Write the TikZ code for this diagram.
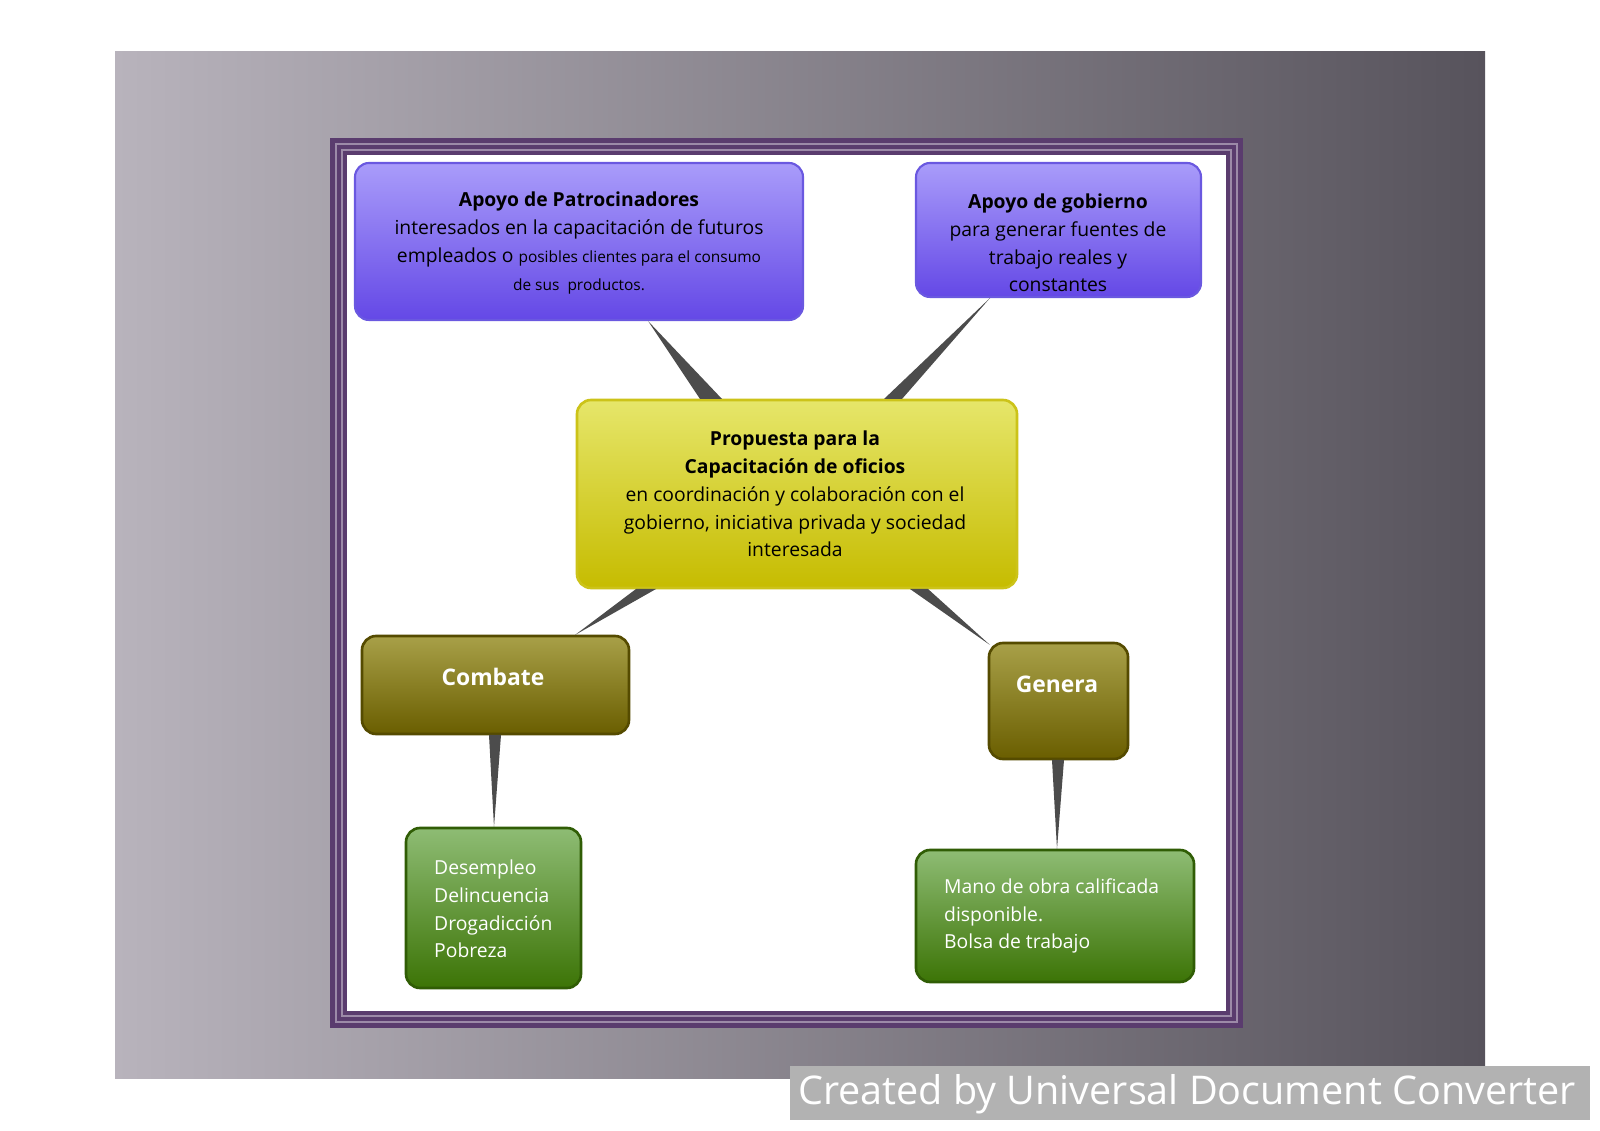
\documentclass[tikz,border=0pt]{standalone}
\usepackage{fontspec}
\setmainfont{Open Sans}
\usetikzlibrary{calc}
\definecolor{frame}{HTML}{5A3C6E}
\definecolor{bgl}{HTML}{B8B3BC}
\definecolor{bgr}{HTML}{57535C}
\definecolor{pt}{HTML}{A99CFA}
\definecolor{pb}{HTML}{6448E6}
\definecolor{pd}{HTML}{6A58E0}
\definecolor{yt}{HTML}{E6E66A}
\definecolor{yb}{HTML}{C6BC00}
\definecolor{ot}{HTML}{A8A048}
\definecolor{ob}{HTML}{6A5E00}
\definecolor{gt}{HTML}{8EBC74}
\definecolor{gb}{HTML}{3C7406}
\tikzset{
 txt/.style={align=center, font=\fontsize{11}{15.8}\selectfont, text=black},
 wedge/.style={fill=black!70, draw=none},
}
\begin{document}
\begin{tikzpicture}[x=0.02cm,y=-0.02cm]
\useasboundingbox (0,0) rectangle (1600,1131);
\fill[white] (0,0) rectangle (1600,1131);
\shade[left color=bgl, right color=bgr] (115,52) rectangle (1485,1078);
% frame
\fill[frame] (330,138) rectangle (1243,1028);
\draw[frame!60!white, line width=1pt] (336,144) rectangle (1237,1022);
\draw[frame!60!white, line width=1pt] (342,150) rectangle (1231,1016);
\fill[white] (347,155) rectangle (1226,1011);
% boxes
\shade[rounded corners=8pt, top color=pt, bottom color=pb] (355,163) rectangle (803,320);
\draw[draw=pd, line width=1.2pt, rounded corners=8pt] (355,163) rectangle (803,320);
\node[txt] (pat) at (579,243) {\textbf{Apoyo de Patrocinadores}\\interesados en la capacitación de futuros\\empleados o {\fontsize{8.8}{15.8}\selectfont posibles clientes para el consumo}\\{\fontsize{8.8}{15.8}\selectfont de sus \ productos.}};

\shade[rounded corners=8pt, top color=pt, bottom color=pb] (916,163) rectangle (1201,297);
\draw[draw=pd, line width=1.2pt, rounded corners=8pt] (916,163) rectangle (1201,297);
\node[txt] (gob) at (1058,243) {\textbf{Apoyo de gobierno}\\para generar fuentes de\\trabajo reales y\\constantes};

\shade[rounded corners=8pt, top color=yt, bottom color=yb] (577,400) rectangle (1017,588);
\draw[draw=yb!90!white, line width=1.5pt, rounded corners=8pt] (577,400) rectangle (1017,588);
\node[txt] (prop) at (795,494) {\textbf{Propuesta para la}\\\textbf{Capacitación de oficios}\\en coordinación y colaboración con el\\gobierno, iniciativa privada y sociedad\\interesada};

\shade[rounded corners=8pt, top color=ot, bottom color=ob] (362,636) rectangle (629,734);
\draw[draw=ob!80!black, line width=1.5pt, rounded corners=8pt] (362,636) rectangle (629,734);
\node[font=\bfseries\fontsize{13}{16}\selectfont, text=white] (comb) at (493,677) {Combate};

\shade[rounded corners=8pt, top color=ot, bottom color=ob] (989,643) rectangle (1128,759);
\draw[draw=ob!80!black, line width=1.5pt, rounded corners=8pt] (989,643) rectangle (1128,759);
\node[font=\bfseries\fontsize{13}{16}\selectfont, text=white] (gen) at (1057,684) {Genera};

\shade[rounded corners=8pt, top color=gt, bottom color=gb] (406,828) rectangle (581,988);
\draw[draw=gb!80!black, line width=1.5pt, rounded corners=8pt] (406,828) rectangle (581,988);
\node[txt, align=left, text=white, anchor=west] (des) at (428,909) {Desempleo\\Delincuencia\\Drogadicción\\Pobreza};

\shade[rounded corners=8pt, top color=gt, bottom color=gb] (916,850) rectangle (1194,982);
\draw[draw=gb!80!black, line width=1.5pt, rounded corners=8pt] (916,850) rectangle (1194,982);
\node[txt, align=left, text=white, anchor=west] (mano) at (938,916) {Mano de obra calificada\\disponible.\\Bolsa de trabajo};

% wedges
\fill[wedge] (648,321) -- (700,399) -- (722,399) -- cycle;
\fill[wedge] (990,298) -- (884,399) -- (902,399) -- cycle;
\fill[wedge] (575,635) -- (636,589) -- (656,589) -- cycle;
\fill[wedge] (990,645) -- (910,589) -- (928,589) -- cycle;
\fill[wedge] (494,827) -- (489,735) -- (501,735) -- cycle;
\fill[wedge] (1057,849) -- (1052,760) -- (1064,760) -- cycle;

% watermark
\fill[black!30] (790,1066) rectangle (1590,1120);
\node[text=white, font=\fontsize{22.5}{24}\selectfont, inner sep=0pt] (wm) at (1187,1094) {Created by Universal Document Converter};
\end{tikzpicture}
\end{document}
